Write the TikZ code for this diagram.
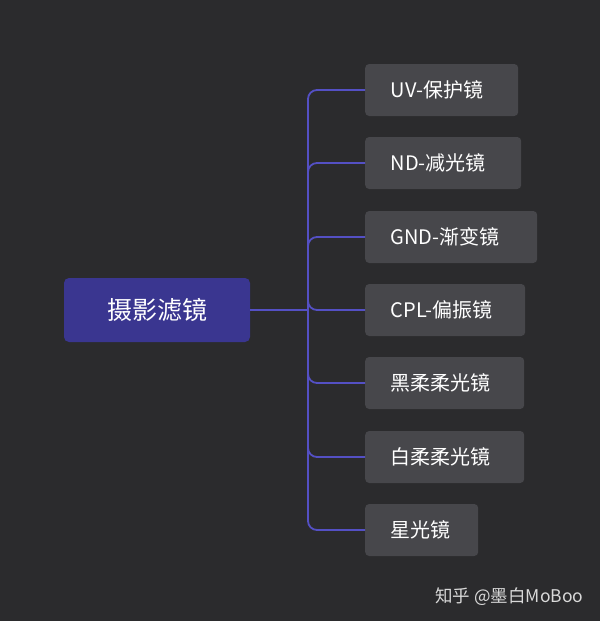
\documentclass[tikz,border=0pt]{standalone}
\usepackage{fontspec}
\setmainfont{Noto Sans CJK SC}
\begin{document}
\begin{tikzpicture}[x=1pt,y=-1pt,
  leaf/.style={fill=leafc,rounded corners=4pt,text=white,font=\fontsize{20}{23}\selectfont,anchor=west,minimum height=52pt,inner xsep=0pt,align=left},
  conn/.style={draw=linec,line width=1.8pt,rounded corners=9pt}]
\definecolor{bg}{HTML}{2B2B2D}
\definecolor{leafc}{HTML}{47474B}
\definecolor{rootc}{HTML}{3A3690}
\definecolor{linec}{HTML}{5450C4}
\fill[bg] (0,0) rectangle (600,621);
\useasboundingbox (0,0) rectangle (600,621);
\node[fill=rootc,rounded corners=5pt,text=white,font=\fontsize{25}{29}\selectfont,minimum width=186pt,minimum height=64pt] (root) at (157,310) {摄影滤镜};
\coordinate (j) at (308,310);
\foreach \n/\y/\w/\t in {a/90/153/UV-保护镜,b/163/156/ND-减光镜,c/237/172/GND-渐变镜,d/310/160/CPL-偏振镜,e/383/159/黑柔柔光镜,f/457/159/白柔柔光镜,g/530/113/星光镜}{
  \node[leaf,minimum width=\w pt,text width=\w pt-17pt,inner xsep=0pt] (\n) at (365,\y) {\hspace*{17pt}\t};
}
\draw[conn] (root.east) -- (j);
\foreach \n in {a,b,c,d,e,f,g}{\draw[conn] (j) |- (\n.west);}
\node[text=white!85!black,font=\fontsize{17.5}{20}\selectfont,anchor=east] (wm) at (587,597) {知乎 @墨白MoBoo};
\end{tikzpicture}
\end{document}
